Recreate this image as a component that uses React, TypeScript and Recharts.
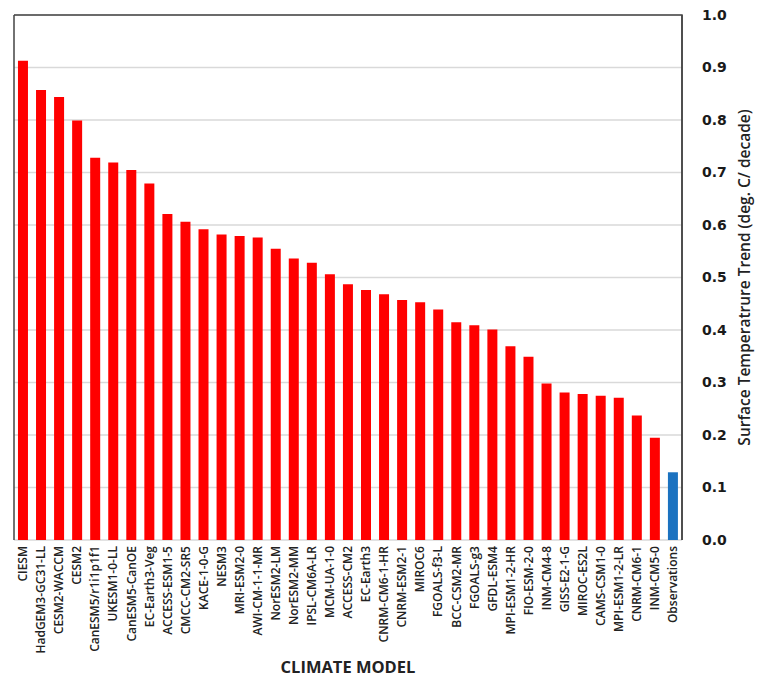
import React from 'react';
import { BarChart, Bar, XAxis, YAxis, CartesianGrid, Cell, ReferenceArea } from 'recharts';

const models = [
  'CIESM', 'HadGEM3-GC31-LL', 'CESM2-WACCM', 'CESM2', 'CanESM5/r1i1p1f1', 'UKESM1-0-LL',
  'CanESM5-CanOE', 'EC-Earth3-Veg', 'ACCESS-ESM1-5', 'CMCC-CM2-SR5', 'KACE-1-0-G', 'NESM3',
  'MRI-ESM2-0', 'AWI-CM-1-1-MR', 'NorESM2-LM', 'NorESM2-MM', 'IPSL-CM6A-LR', 'MCM-UA-1-0',
  'ACCESS-CM2', 'EC-Earth3', 'CNRM-CM6-1-HR', 'CNRM-ESM2-1', 'MIROC6', 'FGOALS-f3-L',
  'BCC-CSM2-MR', 'FGOALS-g3', 'GFDL-ESM4', 'MPI-ESM1-2-HR', 'FIO-ESM-2-0', 'INM-CM4-8',
  'GISS-E2-1-G', 'MIROC-ES2L', 'CAMS-CSM1-0', 'MPI-ESM1-2-LR', 'CNRM-CM6-1', 'INM-CM5-0',
  'Observations',
];

const trends = [
  0.913, 0.857, 0.844, 0.799, 0.728, 0.719,
  0.705, 0.679, 0.621, 0.606, 0.592, 0.582,
  0.579, 0.576, 0.555, 0.536, 0.528, 0.506,
  0.487, 0.476, 0.468, 0.457, 0.453, 0.439,
  0.415, 0.409, 0.401, 0.369, 0.349, 0.298,
  0.281, 0.278, 0.275, 0.271, 0.237, 0.195,
  0.129,
];

const yTicks = [0, 0.1, 0.2, 0.3, 0.4, 0.5, 0.6, 0.7, 0.8, 0.9, 1.0];

const data = models.map((name, i) => ({ name, value: trends[i] }));

const ModelTick = ({ x, y, payload }: any) => (
  <text
    x={x}
    y={y}
    transform={`rotate(-90 ${x} ${y})`}
    textAnchor="end"
    dy="0.35em"
    fontSize={12}
    fontWeight={600}
    fontFamily="Open Sans"
    fill="#222"
  >
    {payload.value}
  </text>
);

export default function App() {
  return (
    <div style={{ position: 'absolute', left: 0, top: 0, background: '#fff' }}>
      <BarChart
        width={768}
        height={686}
        data={data}
        margin={{ top: 15, right: 0, left: 14, bottom: 0 }}
        barCategoryGap="22%"
      >
        <CartesianGrid vertical={false} stroke="#d9d9d9" strokeWidth={1.5} yAxisId="right" />
        {/* frame: top, right, left drawn; bottom edge skipped by the dash pattern */}
        <ReferenceArea
          yAxisId="right"
          y1={0}
          y2={1}
          fill="none"
          stroke="#444"
          strokeWidth={1.5}
          strokeDasharray="1193 668 525 0"
          ifOverflow="visible"
        />
        <XAxis
          dataKey="name"
          interval={0}
          height={146}
          tick={<ModelTick />}
          tickLine={false}
          tickSize={0}
          tickMargin={6}
          axisLine={false}
          label={{
            value: 'CLIMATE MODEL',
            position: 'insideBottom',
            offset: 13,
            fontSize: 16.5,
            fontWeight: 700,
            fontFamily: 'Open Sans',
            fill: '#222',
          }}
        />
        <YAxis
          yAxisId="right"
          orientation="right"
          width={86}
          domain={[0, 1]}
          ticks={yTicks}
          tickFormatter={(v: number) => v.toFixed(1)}
          tickLine={false}
          tickMargin={14}
          axisLine={{ stroke: '#444', strokeWidth: 1.5 }}
          tick={{ fontSize: 14, fontWeight: 700, fontFamily: 'DejaVu Sans', fill: '#1a1a1a' }}
          label={{
            value: 'Surface Temperatrure Trend (deg. C/ decade)',
            angle: -90,
            position: 'center',
            dx: 19,
            fontSize: 15.5,
            fontWeight: 600,
            fontFamily: 'Open Sans',
            fill: '#222',
          }}
        />
        <Bar dataKey="value" yAxisId="right" isAnimationActive={false}>
          {data.map((d) => (
            <Cell key={d.name} fill={d.name === 'Observations' ? '#1b72c0' : '#ff0000'} />
          ))}
        </Bar>
      </BarChart>
    </div>
  );
}
